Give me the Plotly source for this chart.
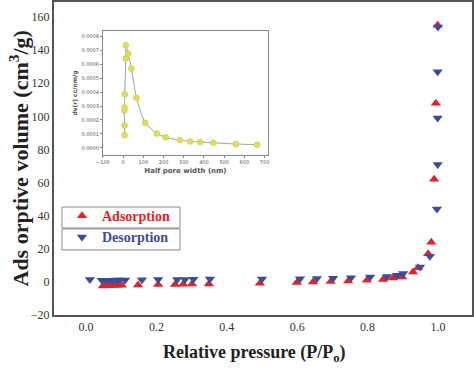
import plotly.graph_objects as go

# Main isotherm data
ads_x = [0.048, 0.058, 0.068, 0.078, 0.088, 0.102, 0.148, 0.205, 0.253, 0.276, 0.301, 0.349,
         0.494, 0.599, 0.645, 0.695, 0.745, 0.798, 0.844, 0.872, 0.898,
         0.929, 0.943, 0.972, 0.981, 0.989, 0.994, 0.999]
ads_y = [-2.5, -2.4, -2.3, -2.2, -2.1, -2.0, -1.8, -1.6, -1.5, -1.4, -1.3, -1.2,
         -0.8, -0.3, 0.0, 0.3, 0.6, 1.0, 1.5, 2.3, 3.0,
         6.0, 8.5, 17.0, 24.0, 62.0, 108.0, 155.0]

des_x = [0.011, 0.045, 0.055, 0.065, 0.075, 0.085, 0.095, 0.111, 0.159, 0.205, 0.259, 0.281,
         0.305, 0.352, 0.500, 0.608, 0.656, 0.702, 0.753, 0.807, 0.855, 0.884, 0.901,
         0.949, 0.977, 0.997, 0.999, 0.999, 0.999, 1.0]
des_y = [1.5, 1.0, 1.0, 1.0, 1.0, 1.1, 1.1, 1.2, 1.3, 1.4, 1.5, 1.5,
         1.6, 1.7, 1.8, 1.9, 2.0, 2.2, 2.5, 2.9, 3.3, 4.0, 5.0,
         9.0, 15.5, 44.0, 71.0, 99.0, 127.0, 154.0]

# Inset pore size distribution
pore_w = [7, 7, 6, 7, 8, 13, 13, 25, 41, 66, 109, 167, 211, 281, 332, 381, 446, 558, 663]
pore_dv = [0.000091, 0.000161, 0.000268, 0.00029, 0.000386, 0.000643, 0.000739, 0.000679,
           0.000571, 0.00036, 0.00018, 0.000103, 0.000075, 0.000055, 0.000046, 0.000041,
           0.000036, 0.000027, 0.000022]

x_ticks = [0.0, 0.2, 0.4, 0.6, 0.8, 1.0]
y_ticks = [-20, 0, 20, 40, 60, 80, 100, 120, 140, 160]
inset_x_ticks = [-100, 0, 100, 200, 300, 400, 500, 600, 700]
inset_y_ticks = [0.0, 0.0001, 0.0002, 0.0003, 0.0004, 0.0005, 0.0006, 0.0007, 0.0008]

RED = "#e52228"
BLUE = "#3a4c9e"
SERIF = "Liberation Serif, DejaVu Serif, serif"

fig = go.Figure()
fig.add_trace(go.Scatter(
    x=ads_x, y=ads_y, mode="markers",
    name="<span style='color:%s'><b>Adsorption</b></span>" % RED,
    marker=dict(symbol="triangle-up", size=9, color=RED),
))
fig.add_trace(go.Scatter(
    x=des_x, y=des_y, mode="markers",
    name="<span style='color:%s'><b>Desorption</b></span>" % BLUE,
    marker=dict(symbol="triangle-down", size=9, color=BLUE),
))
fig.add_trace(go.Scatter(
    x=pore_w, y=pore_dv, mode="lines+markers", xaxis="x2", yaxis="y2",
    showlegend=False,
    line=dict(color="#a0a0a0", width=1, shape="spline", smoothing=0.6),
    marker=dict(symbol="circle", size=6, color="#dede5a",
                line=dict(color="#c8c840", width=0.5)),
))

# legend row boxes (paper coords)
for y0, y1 in [(0.278, 0.345), (0.2077, 0.2748)]:
    fig.add_shape(type="rect", xref="paper", yref="paper",
                  x0=0.0191, x1=0.3014, y0=y0, y1=y1,
                  line=dict(color="#8a8a8a", width=1), fillcolor="white", layer="below")

fig.add_annotation(
    text="<b>Ads orptive volume (cm<sup>3</sup>/g)</b>",
    xref="paper", yref="paper", x=0, y=0.5, xshift=-36, textangle=-90,
    xanchor="center", yanchor="middle", showarrow=False,
    font=dict(family=SERIF, size=22, color="#222222"),
)
fig.add_annotation(
    text="<b>Relative pressure (P/P<sub>o</sub>)</b>",
    xref="paper", yref="paper", x=0.48, y=0, yshift=-38,
    xanchor="center", yanchor="middle", showarrow=False,
    font=dict(family=SERIF, size=18, color="#222222"),
)

fig.update_layout(
    width=474, height=368,
    margin=dict(l=54, r=2, t=2, b=53),
    plot_bgcolor="white", paper_bgcolor="white",
    font=dict(family=SERIF, color="#333333"),
    showlegend=True,
    legend=dict(
        x=0.0191, y=0.367, xanchor="left", yanchor="top",
        bgcolor="rgba(0,0,0,0)", borderwidth=0,
        font=dict(family=SERIF, size=14),
        itemwidth=30, tracegroupgap=0,
    ),
    xaxis=dict(
        range=[-0.0909, 1.0966], tickvals=x_ticks, tickformat=".1f",
        showgrid=False, zeroline=False, showline=True, mirror=True,
        linecolor="#555555", linewidth=2, ticks="", automargin=False,
        tickfont=dict(size=12, color="#333333"),
    ),
    yaxis=dict(
        range=[-20, 169.1], tickvals=y_ticks,
        showgrid=False, zeroline=False, showline=True, mirror=True,
        linecolor="#555555", linewidth=2, ticks="", automargin=False,
        tickfont=dict(size=12, color="#333333"),
    ),
    xaxis2=dict(
        domain=[0.117, 0.512], anchor="y2", range=[-100, 717],
        tickvals=inset_x_ticks, automargin=False,
        showgrid=False, zeroline=False, showline=True, mirror=True,
        linecolor="#888888", linewidth=1, ticks="outside", ticklen=2,
        tickcolor="#888888",
        tickfont=dict(family="DejaVu Sans", size=5, color="#555555"),
        title=dict(text="<b>Half pore width (nm)</b>",
                   font=dict(family="DejaVu Sans", size=7, color="#555555"), standoff=4),
    ),
    yaxis2=dict(
        domain=[0.511, 0.907], anchor="x2", range=[-0.0000525, 0.00084],
        tickvals=inset_y_ticks, tickformat=".4f", automargin=False,
        showgrid=False, zeroline=False, showline=True, mirror=True,
        linecolor="#888888", linewidth=1, ticks="outside", ticklen=2,
        tickcolor="#888888",
        tickfont=dict(family="DejaVu Sans", size=5, color="#555555"),
        title=dict(text="<b>dv(r) cc/nm/g</b>",
                   font=dict(family="DejaVu Sans", size=6, color="#555555"), standoff=3),
    ),
)

fig.write_html("out.html", config={"displayModeBar": False},
               post_script="document.body.style.margin='0';document.body.style.padding='0';")
